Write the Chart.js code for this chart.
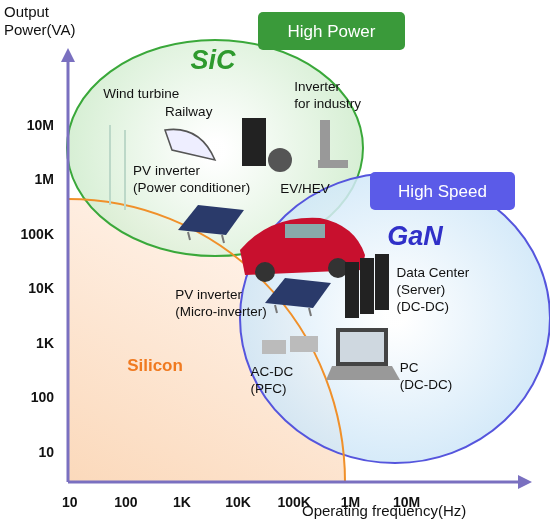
<!DOCTYPE html>
<html><head><meta charset="utf-8">
<script src="https://cdn.jsdelivr.net/npm/chart.js@4"></script>
<style>body{margin:0;background:#fff}#wrap{width:550px;height:523px}</style>
</head><body><div id="wrap"><canvas id="c"></canvas></div>
<script>
// log10 units on both axes
const xTickLabels = ['10', '100', '1K', '10K', '100K', '1M', '10M'];
const xTickValues = [1, 2, 3, 4, 5, 6, 7];
const yTickLabels = ['10', '100', '1K', '10K', '100K', '1M', '10M'];
const yTickValues = [1, 2, 3, 4, 5, 6, 7];

// application labels: [log10 freq, log10 power, text lines]
const appNames = ['Wind turbine', 'Railway', 'Inverter\nfor industry', 'PV inverter\n(Power conditioner)', 'EV/HEV',
  'PV inverter\n(Micro-inverter)', 'Data Center\n(Server)\n(DC-DC)', 'AC-DC\n(PFC)', 'PC\n(DC-DC)'];
const appX = [1.6, 2.7, 5.0, 2.13, 4.75, 2.88, 6.82, 4.22, 6.88];
const appY = [7.57, 7.24, 7.7, 6.16, 5.83, 3.9, 4.3, 2.49, 2.56];

function ellipse(ctx, cx, cy, rx, ry) { ctx.beginPath(); ctx.ellipse(cx, cy, rx, ry, 0, 0, Math.PI * 2); }
function box(ctx, x, y, w, h, fill, text) {
  ctx.fillStyle = fill; ctx.beginPath(); ctx.roundRect(x, y, w, h, 5); ctx.fill();
  ctx.fillStyle = '#fff'; ctx.font = '17px Arial, "Liberation Sans"'; ctx.textAlign = 'center'; ctx.textBaseline = 'middle';
  ctx.fillText(text, x + w / 2, y + h / 2 + 1);
}
function panel(ctx, x, y) {
  ctx.fillStyle = '#2a3a6a'; ctx.beginPath();
  ctx.moveTo(x, y + 25); ctx.lineTo(x + 20, y); ctx.lineTo(x + 66, y + 5); ctx.lineTo(x + 48, y + 30); ctx.closePath(); ctx.fill();
  ctx.strokeStyle = '#777'; ctx.lineWidth = 2; ctx.beginPath(); ctx.moveTo(x + 10, y + 27); ctx.lineTo(x + 12, y + 35); ctx.moveTo(x + 44, y + 30); ctx.lineTo(x + 46, y + 38); ctx.stroke();
}

const drawing = {
  id: 'drawing',
  beforeDatasetsDraw(chart) {
    const ctx = chart.ctx, xs = chart.scales.x, ys = chart.scales.y;
    const X = v => xs.getPixelForValue(v), Y = v => ys.getPixelForValue(v);
    const ox = xs.left, oy = ys.bottom;
    ctx.save();
    // silicon region
    const g = ctx.createLinearGradient(ox, oy, ox + 150, oy - 280);
    g.addColorStop(0, '#fbd9bb'); g.addColorStop(1, '#fff3ea');
    ctx.fillStyle = g; ctx.beginPath(); ctx.moveTo(ox, oy); ctx.ellipse(ox, oy, 277, 283, 0, -Math.PI / 2, 0); ctx.closePath(); ctx.fill();
    // green ellipse
    const gg = ctx.createRadialGradient(215, 150, 10, 215, 150, 150);
    gg.addColorStop(0, '#ffffff'); gg.addColorStop(1, '#cfeccc');
    ellipse(ctx, 215, 148, 148, 108); ctx.fillStyle = gg; ctx.globalAlpha = 0.85; ctx.fill(); ctx.globalAlpha = 1;
    ctx.strokeStyle = '#3aa83a'; ctx.lineWidth = 2; ctx.stroke();
    // blue ellipse
    const bg = ctx.createRadialGradient(395, 315, 10, 395, 315, 155);
    bg.addColorStop(0, '#ffffff'); bg.addColorStop(1, '#cde6f8');
    ellipse(ctx, 395, 318, 155, 145); ctx.fillStyle = bg; ctx.globalAlpha = 0.85; ctx.fill(); ctx.globalAlpha = 1;
    ctx.strokeStyle = '#5555dd'; ctx.lineWidth = 2; ctx.stroke();
    // silicon boundary
    ctx.strokeStyle = '#f0902a'; ctx.lineWidth = 2; ctx.beginPath(); ctx.ellipse(ox, oy, 277, 283, 0, -Math.PI / 2, 0); ctx.stroke();
    // axes
    ctx.strokeStyle = '#7a70c0'; ctx.fillStyle = '#7a70c0'; ctx.lineWidth = 3;
    ctx.beginPath(); ctx.moveTo(ox, oy); ctx.lineTo(ox, ys.top + 8); ctx.moveTo(ox, oy); ctx.lineTo(xs.right - 8, oy); ctx.stroke();
    ctx.beginPath(); ctx.moveTo(ox - 7, ys.top + 12); ctx.lineTo(ox, ys.top - 2); ctx.lineTo(ox + 7, ys.top + 12); ctx.fill();
    ctx.beginPath(); ctx.moveTo(xs.right - 12, oy - 7); ctx.lineTo(xs.right + 2, oy); ctx.lineTo(xs.right - 12, oy + 7); ctx.fill();
    // tick labels
    ctx.fillStyle = '#111'; ctx.font = 'bold 14px Arial, "Liberation Sans"'; ctx.textBaseline = 'middle';
    ctx.textAlign = 'right'; yTickValues.forEach((v, i) => ctx.fillText(yTickLabels[i], 54, Y(v)));
    ctx.textAlign = 'center'; xTickValues.forEach((v, i) => ctx.fillText(xTickLabels[i], X(v), 503));
    // axis titles
    ctx.font = '15px Arial, "Liberation Sans"'; ctx.textAlign = 'left';
    ctx.fillText('Output', 4, 13); ctx.fillText('Power(VA)', 4, 31);
    ctx.fillText('Operating frequency(Hz)', 302, 512);
    // boxes and big labels
    box(ctx, 258, 12, 147, 38, '#3a9a3a', 'High Power');
    box(ctx, 370, 172, 145, 38, '#5b5be8', 'High Speed');
    ctx.font = 'italic bold 27px Arial, "Liberation Sans"'; ctx.textAlign = 'center';
    ctx.fillStyle = '#2e9a2e'; ctx.fillText('SiC', 213, 62);
    ctx.fillStyle = '#3030c8'; ctx.fillText('GaN', 415, 238);
    ctx.font = 'bold 17px Arial, "Liberation Sans"'; ctx.fillStyle = '#f07a20'; ctx.fillText('Silicon', 155, 366);
    // icons
    ctx.strokeStyle = '#bcd8c8'; ctx.lineWidth = 2;
    [[110, 125], [125, 130]].forEach(p => { ctx.beginPath(); ctx.moveTo(p[0], p[1]); ctx.lineTo(p[0], p[1] + 80); ctx.stroke(); });
    ctx.fillStyle = '#eef'; ctx.strokeStyle = '#555'; ctx.lineWidth = 1.5;
    ctx.beginPath(); ctx.moveTo(165, 130); ctx.quadraticCurveTo(200, 125, 215, 160); ctx.lineTo(172, 150); ctx.closePath(); ctx.fill(); ctx.stroke();
    ctx.fillStyle = '#222'; ctx.fillRect(242, 118, 24, 48); ctx.fillStyle = '#555'; ctx.beginPath(); ctx.arc(280, 160, 12, 0, 7); ctx.fill();
    ctx.fillStyle = '#999'; ctx.fillRect(320, 120, 10, 40); ctx.fillRect(318, 160, 30, 8);
    panel(ctx, 178, 205); panel(ctx, 265, 278);
    // car
    ctx.fillStyle = '#c8102e'; ctx.beginPath(); ctx.moveTo(240, 250); ctx.quadraticCurveTo(270, 215, 320, 218);
    ctx.quadraticCurveTo(355, 225, 365, 255); ctx.lineTo(362, 270); ctx.lineTo(245, 275); ctx.closePath(); ctx.fill();
    ctx.fillStyle = '#333'; ctx.beginPath(); ctx.arc(265, 272, 10, 0, 7); ctx.arc(338, 268, 10, 0, 7); ctx.fill();
    ctx.fillStyle = '#8aa'; ctx.fillRect(285, 224, 40, 14);
    // servers
    ctx.fillStyle = '#222'; [[345, 262], [360, 258], [375, 254]].forEach(p => ctx.fillRect(p[0], p[1], 14, 56));
    // laptop
    ctx.fillStyle = '#444'; ctx.fillRect(336, 328, 52, 38); ctx.fillStyle = '#cfd8e0'; ctx.fillRect(340, 332, 44, 30);
    ctx.fillStyle = '#999'; ctx.beginPath(); ctx.moveTo(332, 366); ctx.lineTo(392, 366); ctx.lineTo(400, 380); ctx.lineTo(326, 380); ctx.fill();
    ctx.fillStyle = '#bbb'; ctx.fillRect(262, 340, 24, 14); ctx.fillRect(290, 336, 28, 16);
    // application labels
    ctx.fillStyle = '#111'; ctx.font = '13.5px Arial, "Liberation Sans"'; ctx.textAlign = 'left';
    appNames.forEach((n, i) => n.split('\n').forEach((l, k) => ctx.fillText(l, X(appX[i]), Y(appY[i]) + k * 17)));
    ctx.restore();
  }
};

new Chart(document.getElementById('c'), {
  type: 'scatter',
  data: { datasets: [{ data: appX.map((x, i) => ({ x: x, y: appY[i] })), pointRadius: 0 }] },
  options: {
    responsive: true, maintainAspectRatio: false, animation: false,
    layout: { padding: { left: 68, right: 20, top: 50, bottom: 41 } },
    plugins: { legend: { display: false }, tooltip: { enabled: false } },
    scales: {
      x: { type: 'linear', min: 0.97, max: 9.2, display: false },
      y: { type: 'linear', min: 0.47, max: 8.39, display: false }
    }
  },
  plugins: [drawing]
});
</script></body></html>
